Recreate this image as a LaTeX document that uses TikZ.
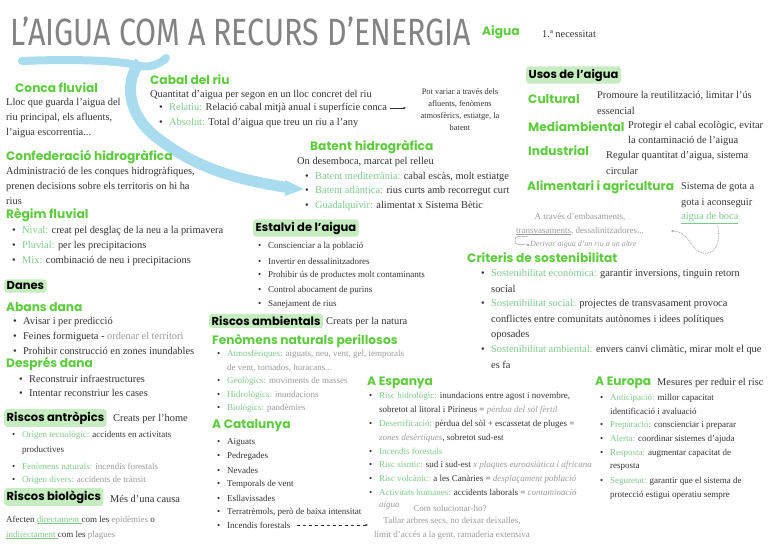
\documentclass[tikz,border=0pt]{standalone}
\usepackage{fontspec}
\setmainfont{Liberation Serif}
\newfontfamily\hdfont{Poppins}
\newfontfamily\ttlfont{Fira Sans}
\usetikzlibrary{arrows.meta}
\definecolor{hg}{HTML}{5CCB3C}
\definecolor{lg}{HTML}{7DC98A}
\definecolor{gr}{HTML}{9A9A9A}
\definecolor{tx}{HTML}{333333}
\definecolor{hl}{HTML}{C6EDC0}
\definecolor{riv}{HTML}{A9DCEF}
\newcommand\bl{\makebox[10pt][l]{\textbullet}}
\tikzset{
 t/.style={anchor=west,inner sep=0pt,text=tx,font=\fontsize{10.4}{11}\selectfont},
 s/.style={anchor=west,inner sep=0pt,text=tx,font=\fontsize{9}{10}\selectfont},
 h/.style={anchor=west,inner sep=0pt,text=hg,font=\hdfont\bfseries\fontsize{12.2}{13}\selectfont},
 bx/.style={anchor=west,inner sep=2.5pt,fill=hl,rounded corners=3pt,text=black,font=\hdfont\bfseries\fontsize{11.5}{13}\selectfont},
 c/.style={anchor=center,inner sep=0pt,text=gr,font=\fontsize{9}{10}\selectfont},
}
\begin{document}
\begin{tikzpicture}[x=1pt,y=-1pt]
\useasboundingbox (0,0) rectangle (768,544);
% river
\draw[riv,line width=8pt,line cap=round] (22,61) .. controls (70,59) and (120,60) .. (140,66)
  .. controls (150,68) and (160,64) .. (166,58);
\draw[riv,line width=11pt] (140,62) .. controls (125,80) and (125,115) .. (160,140)
  .. controls (200,170) and (240,180) .. (290,188);
\fill[riv] (285,180) -- (304,189) -- (285,196) -- cycle;
% title
\node[anchor=west,inner sep=0pt,text=gr!85!black,font=\ttlfont\fontsize{38}{40}\selectfont,xscale=0.80] (title) at (10,31) {L’AIGUA COM A RECURS D’ENERGIA};
\node[h] (aig) at (482,32) {Aigua};
\node[t] (nec) at (542,34) {1.ª necessitat};
% left column
\node[h] (conca) at (15,88) {Conca fluvial};
\node[t] at (6,103) {Lloc que guarda l’aigua del};
\node[t] at (6,118) {riu principal, els afluents,};
\node[t] at (6,133) {l’aigua escorrentia...};
\node[h] (conf) at (6,157) {Confederació hidrogràfica};
\node[t] at (6,172) {Administració de les conques hidrogràfiques,};
\node[t] at (6,187) {prenen decisions sobre els territoris on hi ha};
\node[t] at (6,201) {rius};
\node[h] (regim) at (6,215) {Règim fluvial};
\node[t] at (12,231) {\bl\textcolor{lg}{Nival:} creat pel desglaç de la neu a la primavera};
\node[t] at (12,246) {\bl\textcolor{lg}{Pluvial:} per les precipitacions};
\node[t] at (12,261) {\bl\textcolor{lg}{Mix:} combinació de neu i precipitacions};
\node[bx] (danes) at (4,286) {Danes};
\node[h] (abans) at (6,307) {Abans dana};
\node[t] at (13,322) {\bl Avisar i per predicció};
\node[t] at (13,337) {\bl Feines formigueta - \textcolor{gr}{ordenar el territori}};
\node[t] at (13,351) {\bl Prohibir construcció en zones inundables};
\node[h] (despr) at (6,364) {Després dana};
\node[t] at (19,379) {\bl Reconstruir infraestructures};
\node[t] at (19,393) {\bl Intentar reconstriur les cases};
\node[bx] (antr) at (4,418) {Riscos antròpics};
\node[t] at (113,419) {Creats per l’home};
\node[s] at (12,435) {\bl\textcolor{lg}{Origen tecnològic:} accidents en activitats};
\node[s] at (22,450) {productives};
\node[s] at (12,466) {\bl\textcolor{lg}{Fenòmens naturals:} \textcolor{gr}{incendis forestals}};
\node[s] at (12,480) {\bl\textcolor{lg}{Origen divers:} \textcolor{gr}{accidents de trànsit}};
\node[bx] (biol) at (4,497) {Riscos biològics};
\node[t] at (110,499) {Més d’una causa};
\node[s] at (6,520) {Afecten \textcolor{lg}{\underline{directament }}com les \textcolor{gr}{epidèmies} o};
\node[s] at (6,535) {\textcolor{lg}{\underline{indirectament }}com les \textcolor{gr}{plagues}};
% middle
\node[h] (cabal) at (150,80) {Cabal del riu};
\node[t] (quant) at (150,95) {Quantitat d’aigua per segon en un lloc concret del riu};
\node[t] (rel) at (159,108) {\bl\textcolor{lg}{Relatiu:} Relació cabal mitjà anual i superfície conca};
\node[t] at (159,123) {\bl\textcolor{lg}{Absolut:} Total d’aigua que treu un riu a l’any};
\node[c,text=tx,align=center,font=\fontsize{8.4}{9}\selectfont] (pot) at (460,110) {Pot variar a través dels\\[3pt]afluents, fenòmens\\[3pt]atmosfèrics, estiatge, la\\[3pt]batent};
\draw[-{Stealth[length=3pt]},tx,thin] (rel.east)++(3,0) -- ++(16,0);
\node[h] (batent) at (310,147) {Batent hidrogràfica};
\node[t] at (297,162) {On desemboca, marcat pel relleu};
\node[t] at (305,177) {\bl\textcolor{lg}{Batent mediterrània:} cabal escàs, molt estiatge};
\node[t] at (305,191) {\bl\textcolor{lg}{Batent atlàntica:} rius curts amb recorregut curt};
\node[t] at (305,206) {\bl\textcolor{lg}{Guadalquivir:} alimentat x Sistema Bètic};
\node[bx] (estalvi) at (253,228) {Estalvi de l’aigua};
\node[s] at (258,246) {\bl Conscienciar a la població};
\node[s] at (258,261) {\bl Invertir en dessalinitzadores};
\node[s] at (258,275) {\bl Prohibir ús de productes molt contaminants};
\node[s] at (258,290) {\bl Control abocament de purins};
\node[s] at (258,304) {\bl Sanejament de rius};
\node[bx] (amb) at (209,321) {Riscos ambientals};
\node[t] at (326,322) {Creats per la natura};
\node[h] (fen) at (212,341) {Fenòmens naturals perillosos};
\node[s] at (217,354) {\bl\textcolor{lg}{Atmosfèriques:} \textcolor{gr}{aiguats, neu, vent, gel, temporals}};
\node[s] at (227,368) {\textcolor{gr}{de vent, tornados, huracans...}};
\node[s] at (217,381) {\bl\textcolor{lg}{Geològics:} \textcolor{gr}{moviments de masses}};
\node[s] at (217,395) {\bl\textcolor{lg}{Hidrològics:} \textcolor{gr}{inundacions}};
\node[s] at (217,408) {\bl\textcolor{lg}{Biològics:} \textcolor{gr}{pandèmies}};
\node[h] (cat) at (212,426) {A Catalunya};
\node[s] at (217,442) {\bl Aiguats};
\node[s] at (217,456) {\bl Pedregades};
\node[s] at (217,470) {\bl Nevades};
\node[s] at (217,484) {\bl Temporals de vent};
\node[s] at (217,498) {\bl Esllavissades};
\node[s] at (217,512) {\bl Terratrèmols, però de baixa intensitat};
\node[s] (incend) at (217,525) {\bl Incendis forestals};
\coordinate (dashend) at (368,525);
\draw[dashed,tx,thin,-{Stealth[length=3pt]}] (incend.east)++(6,0) -- (dashend);
% right
\node[bx] (usos) at (526,75) {Usos de l’aigua};
\node[h] (cult) at (528,99) {Cultural};
\node[t] at (597,96) {Promoure la reutilització, limitar l’ús};
\node[t] at (597,111) {essencial};
\node[h] (med) at (528,127) {Mediambiental};
\node[t] at (628,126) {Protegir el cabal ecològic, evitar};
\node[t] at (628,141) {la contaminació de l’aigua};
\node[h] (ind) at (528,151) {Industrial};
\node[t] at (606,156) {Regular quantitat d’aigua, sistema};
\node[t] at (606,171) {circular};
\node[h] (alim) at (527,187) {Alimentari i agricultura};
\node[t] at (681,187) {Sistema de gota a};
\node[t] at (681,203) {gota i aconseguir};
\node[t] (boca) at (681,218) {\textcolor{lg}{\underline{aigua de boca}}};
\node[c] (trav) at (580,217) {A través d’embasaments,};
\node[c] (trans) at (580,231) {\underline{transvasaments}, dessalinitzadores...};
\node[anchor=west,inner sep=0pt,text=gr,font=\itshape\fontsize{8}{9}\selectfont] (deriv) at (530,245) {Derivar aigua d’un riu a un altre};
\draw[gr,thin,-{Stealth[length=3pt]}] (trans.south west)++(12,1) -- ++(-10,0) .. controls ++(-4,0) and ++(-4,0) .. ++(0,8) -- (deriv.west);
\draw[gr,densely dotted,thick,-{Stealth[length=3pt]}] (boca.south)++(8,2) .. controls (723,252) and (705,262) .. (692,245) .. controls (686,235) and (680,231) .. (671,231);
\node[h] (crit) at (467,258) {Criteris de sostenibilitat};
\node[t] at (481,274) {\bl\textcolor{lg}{Sostenibilitat econòmica:} garantir inversions, tinguin retorn};
\node[t] at (491,289) {social};
\node[t] at (481,304) {\bl\textcolor{lg}{Sostenibilitat social:} projectes de transvasament provoca};
\node[t] at (491,320) {conflictes entre comunitats autònomes i idees polítiques};
\node[t] at (491,335) {oposades};
\node[t] at (481,350) {\bl\textcolor{lg}{Sostenibilitat ambiental:} envers canvi climàtic, mirar molt el que};
\node[t] at (491,365) {es fa};
\node[h] (esp) at (367,383) {A Espanya};
\node[s] at (369,396) {\bl\textcolor{lg}{Risc hidrològic:} inundacions entre agost i novembre,};
\node[s] at (379,410) {sobretot al litoral i Pirineus = \textcolor{gr}{\itshape pèrdua del sòl fèrtil}};
\node[s] at (369,424) {\bl\textcolor{lg}{Desertificació:} pèrdua del sòl + escassetat de pluges =};
\node[s] at (379,438) {\textcolor{gr}{\itshape zones desèrtiques}, sobretot sud-est};
\node[s] at (369,451) {\bl\textcolor{lg}{Incendis forestals}};
\node[s] at (369,465) {\bl\textcolor{lg}{Risc sísmic:} sud i sud-est \textcolor{gr}{\itshape x plaques euroasiàtica i africana}};
\node[s] at (369,479) {\bl\textcolor{lg}{Risc volcànic:} a les Canàries = \textcolor{gr}{\itshape desplaçament població}};
\node[s] at (369,492) {\bl\textcolor{lg}{Activitats humanes:} accidents laborals = \textcolor{gr}{\itshape contaminació}};
\node[s,text=gr] at (379,505) {\itshape aigua};
\node[c] (com) at (450,508) {Com solucionar-ho?};
\node[c] (tall) at (452,521) {Tallar arbres secs, no deixar deixalles,};
\node[c] (lim) at (452,535) {límit d’accés a la gent, ramaderia extensiva};
\node[h] (eur) at (595,383) {A Europa};
\node[t] at (657,383) {Mesures per reduir el risc};
\node[s] at (600,398) {\bl\textcolor{lg}{Anticipació:} millor capacitat};
\node[s] at (610,411) {identificació i avaluació};
\node[s] at (600,425) {\bl\textcolor{lg}{Preparació:} conscienciar i preparar};
\node[s] at (600,439) {\bl\textcolor{lg}{Alerta:} coordinar sistemes d’ajuda};
\node[s] at (600,453) {\bl\textcolor{lg}{Resposta:} augmentar capacitat de};
\node[s] at (610,467) {resposta};
\node[s] at (600,481) {\bl\textcolor{lg}{Seguretat:} garantir que el sistema de};
\node[s] at (610,495) {protecció estigui operatiu sempre};
\end{tikzpicture}
\end{document}
